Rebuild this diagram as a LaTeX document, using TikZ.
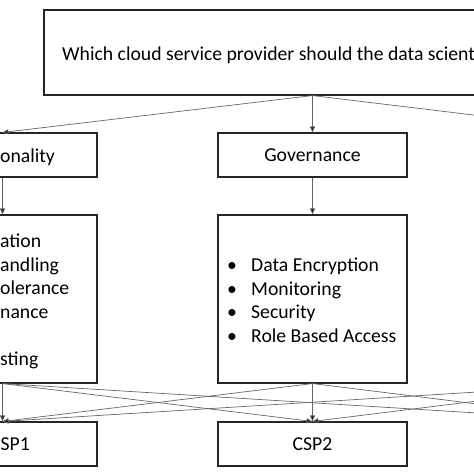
\documentclass[tikz,border=0pt]{standalone}
\usepackage{fontspec}
\setmainfont{Carlito}
\usetikzlibrary{arrows.meta, positioning}
\tikzset{box/.style={draw=black!85, line width=1.1pt, minimum width=189pt, minimum height=44pt, inner sep=0pt},
  link/.style={draw=black!60, line width=0.7pt, -{Triangle[length=6pt,width=5pt,fill=black!85]}},
  frag/.style={inner sep=0pt, align=left}}

\begin{document}
\begin{tikzpicture}[x=1pt, y=-1pt, font=\fontsize{19.7}{23.5}\selectfont]
    \useasboundingbox (0,0) rectangle (474,474);
    \clip (0,0) rectangle (474,474);
    % question
    \node[box, minimum width=537pt, minimum height=85pt] (question) at (312.5,52.5) {};
    \node[frag, anchor=base west] (question-text) at (62,60) {Which cloud service provider should the data scient};
    % criteria
    \node[box] (func) at (2.5,155) {};
    \node[frag, anchor=base west] (func-text) at (0,162) {onality};
    \node[box] (gov) at (312.5,155) {Governance};
    \coordinate (cost-in) at (622.5,133);
    % details
    \node[box, minimum height=168pt] (func-list) at (2.5,299) {};
    \node[frag, anchor=north west] (func-items) at (0,234) {ation\\andling\\olerance\\nance\\\mbox{}\\sting};
    \node[box, minimum height=168pt] (gov-list) at (312.5,299) {};
    \node[frag, anchor=north west] (gov-items) at (227,258)
      {\makebox[24pt][l]{\textbullet}Data Encryption\\\makebox[24pt][l]{\textbullet}Monitoring\\\makebox[24pt][l]{\textbullet}Security\\\makebox[24pt][l]{\textbullet}Role Based Access};
    \coordinate (cost-out) at (622.5,383);
    % providers
    \node[box] (csp1) at (2.5,444) {};
    \node[frag, anchor=base west] (csp1-text) at (0.5,450) {SP1};
    \node[box] (csp2) at (312.5,444) {CSP2};
    \coordinate (csp3-in) at (622.5,422);

    \draw[link] (question.south) -- (func.north);
    \draw[link] (question.south) -- (gov.north);
    \draw[link] (question.south) -- (cost-in);
    \draw[link] (func.south) -- (func-list.north);
    \draw[link] (gov.south) -- (gov-list.north);
    \foreach \src in {func-list.south, gov-list.south, cost-out}
      \foreach \dst in {csp1.north, csp2.north, csp3-in}
        \draw[link] (\src) -- (\dst);
\end{tikzpicture}
\end{document}
